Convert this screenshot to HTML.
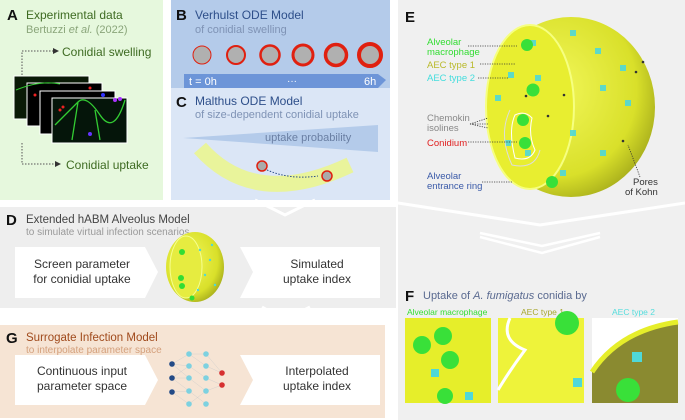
<!DOCTYPE html>
<html><head><meta charset="utf-8"><style>
body{margin:0;background:#fff;font-family:"Liberation Sans",sans-serif}
svg{display:block}
text{font-family:"Liberation Sans",sans-serif}
</style></head><body>
<svg width="685" height="420" viewBox="0 0 685 420" xmlns="http://www.w3.org/2000/svg">
<defs>
<radialGradient id="sph" cx="0.4" cy="0.4" r="0.7"><stop offset="0" stop-color="#f2f75a"/><stop offset="0.7" stop-color="#d9e02a"/><stop offset="1" stop-color="#9aa018"/></radialGradient>
<radialGradient id="aec" cx="0.5" cy="0.5" r="0.5"><stop offset="0" stop-color="#f4ff40"/><stop offset="1" stop-color="#dce6f5" stop-opacity="0"/></radialGradient>
<marker id="ar" markerWidth="6" markerHeight="6" refX="5" refY="3" orient="auto"><path d="M0,0L6,3L0,6z" fill="#333"/></marker>
</defs>
<rect x="398" y="0" width="287" height="420" fill="#f0f0f0"/>
<!-- A -->
<rect x="0" y="0" width="163" height="200" fill="#e6f8dd"/>
<text x="7" y="20" font-size="15" font-weight="bold" fill="#111">A</text>
<text x="26" y="19" font-size="12" fill="#3e6b22">Experimental data</text>
<text x="26" y="33" font-size="11" fill="#8aa57a">Bertuzzi <tspan font-style="italic">et al.</tspan> (2022)</text>
<path d="M22,75 V51 H58" stroke="#555" stroke-dasharray="1.5,1.5" fill="none" marker-end="url(#ar)"/>
<text x="62" y="56" font-size="12" fill="#3e6b22">Conidial swelling</text>
<path d="M22,143 V164 H60" stroke="#555" stroke-dasharray="1.5,1.5" fill="none" marker-end="url(#ar)"/>
<text x="66" y="169" font-size="12" fill="#3e6b22">Conidial uptake</text>
<rect x="14" y="76" width="75" height="43" fill="#0a1a06" stroke="#fff"/>
<rect x="27" y="83" width="75" height="43" fill="#000" stroke="#fff"/>
<rect x="40" y="91" width="75" height="43" fill="#000" stroke="#fff"/>
<rect x="52" y="98" width="75" height="45" fill="#05150a" stroke="#fff"/>
<path d="M55,125 Q70,110 78,102 T100,115 T125,100 M78,102 L72,140 M95,110 L100,140" stroke="#3c3" stroke-width="1.3" fill="none"/>
<path d="M16,90 Q40,80 60,84" stroke="#3c3" fill="none"/>
<circle cx="60" cy="110" r="1.5" fill="#e22"/><circle cx="63" cy="107" r="1.5" fill="#e22"/>
<circle cx="90" cy="88" r="1.5" fill="#e22"/><circle cx="35" cy="95" r="1.5" fill="#e22"/>
<circle cx="103" cy="95" r="2" fill="#33f"/><circle cx="90" cy="134" r="2" fill="#63f"/>
<circle cx="115" cy="100" r="2" fill="#a3f"/><circle cx="120" cy="99" r="2" fill="#a3f"/>
<!-- B -->
<rect x="171" y="0" width="219" height="88" fill="#b4cbea"/>
<rect x="171" y="88" width="219" height="112" fill="#dbe6f6"/>
<text x="176" y="20" font-size="15" font-weight="bold" fill="#111">B</text>
<text x="195" y="19" font-size="12" fill="#2e4f8a">Verhulst ODE Model</text>
<text x="195" y="33" font-size="11" fill="#7f93b5">of conidial swelling</text>
<g fill="#b0b0b0" stroke="#e02010">
<circle cx="202" cy="55" r="9" stroke-width="1"/><circle cx="236" cy="55" r="9" stroke-width="2"/>
<circle cx="270" cy="55" r="9.5" stroke-width="2.5"/><circle cx="303" cy="55" r="10" stroke-width="3"/>
<circle cx="336" cy="55" r="10.5" stroke-width="3.5"/><circle cx="370" cy="55" r="11" stroke-width="4"/></g>
<path d="M184,74 H378 L386,80 L378,88 H184 Z" fill="#6d95d8"/>
<text x="189" y="85" font-size="11" fill="#fff">t = 0h</text>
<text x="287" y="84" font-size="10" fill="#fff">···</text>
<text x="364" y="85" font-size="11" fill="#fff">6h</text>
<text x="176" y="107" font-size="15" font-weight="bold" fill="#111">C</text>
<text x="195" y="105" font-size="12" fill="#2e4f8a">Malthus ODE Model</text>
<text x="195" y="118" font-size="11" fill="#7f93b5">of size-dependent conidial uptake</text>
<path d="M183,138 L378,125 L378,152 Z" fill="#b4cbea"/>
<text x="265" y="141" font-size="11" fill="#6a7fa3">uptake probability</text>
<path d="M200,148 Q255,210 350,165" stroke="#f4ff50" stroke-width="16" fill="none" opacity="0.55"/>
<circle cx="262" cy="166" r="5" fill="#aaa" stroke="#e02010" stroke-width="1.5"/>
<circle cx="327" cy="176" r="5" fill="#aaa" stroke="#e02010" stroke-width="1.5"/>
<path d="M267,170 Q290,180 318,176" stroke="#2e4f8a" stroke-dasharray="1.5,1.5" fill="none"/>
<!-- D -->
<rect x="0" y="207" width="396" height="101" fill="#eeeeee"/>
<path d="M255,200 L285,215 L315,200" stroke="#fff" stroke-width="3" fill="none"/>
<text x="6" y="225" font-size="15" font-weight="bold" fill="#111">D</text>
<text x="26" y="223" font-size="11.5" fill="#444">Extended hABM Alveolus Model</text>
<text x="26" y="235" font-size="10" fill="#999">to simulate virtual infection scenarios</text>
<path d="M15,247 H145 L158,272 L145,298 H15 Z" fill="#fff"/>
<text x="82" y="268" font-size="12" text-anchor="middle" fill="#333">Screen parameter</text>
<text x="82" y="283" font-size="12" text-anchor="middle" fill="#333">for conidial uptake</text>
<path d="M240,247 H380 V298 H240 L253,272 Z" fill="#fff"/>
<text x="317" y="268" font-size="12" text-anchor="middle" fill="#333">Simulated</text>
<text x="317" y="283" font-size="12" text-anchor="middle" fill="#333">uptake index</text>
<ellipse cx="195" cy="267" rx="29" ry="35" fill="url(#sph)"/>
<ellipse cx="186" cy="267" rx="16" ry="31" fill="#e6ec40" stroke="#f6ff90"/>
<g fill="#3d3"><circle cx="182" cy="252" r="3"/><circle cx="181" cy="278" r="3"/><circle cx="182" cy="286" r="3"/><circle cx="192" cy="298" r="2.5"/></g>
<g fill="#4fd8d8"><circle cx="200" cy="250" r="1.2"/><circle cx="210" cy="260" r="1.2"/><circle cx="205" cy="275" r="1.2"/><circle cx="215" cy="285" r="1.2"/><circle cx="198" cy="290" r="1.2"/><circle cx="212" cy="245" r="1.2"/></g>
<!-- G -->
<rect x="0" y="325" width="385" height="93" fill="#f6e4d4"/>
<path d="M262,307 L285,320 L310,307" stroke="#fff" stroke-width="3" fill="none"/>
<text x="6" y="343" font-size="15" font-weight="bold" fill="#111">G</text>
<text x="26" y="341" font-size="11.5" fill="#a04a1c">Surrogate Infection Model</text>
<text x="26" y="353" font-size="10" fill="#d4a07c">to interpolate parameter space</text>
<path d="M15,355 H145 L158,380 L145,405 H15 Z" fill="#fff"/>
<text x="82" y="375" font-size="12" text-anchor="middle" fill="#333">Continuous input</text>
<text x="82" y="390" font-size="12" text-anchor="middle" fill="#333">parameter space</text>
<path d="M240,355 H380 V405 H240 L253,380 Z" fill="#fff"/>
<text x="317" y="375" font-size="12" text-anchor="middle" fill="#333">Interpolated</text>
<text x="317" y="390" font-size="12" text-anchor="middle" fill="#333">uptake index</text>
<g stroke="#ccc" stroke-width="0.4">
<path d="M172,364 L189,354 M172,364 L189,366 M172,364 L189,378 M172,378 L189,366 M172,378 L189,378 M172,378 L189,391 M172,392 L189,391 M172,392 L189,404 M189,354 L206,366 M189,366 L206,378 M189,378 L206,391 M189,391 L206,404 M189,354 L206,354 M189,404 L206,391 M206,366 L222,373 M206,378 L222,385 M206,391 L222,385 M206,354 L222,373"/></g>
<g fill="#7dd1e0"><circle cx="189" cy="354" r="2.8"/><circle cx="189" cy="366" r="2.8"/><circle cx="189" cy="378" r="2.8"/><circle cx="189" cy="391" r="2.8"/><circle cx="189" cy="404" r="2.8"/>
<circle cx="206" cy="354" r="2.8"/><circle cx="206" cy="366" r="2.8"/><circle cx="206" cy="378" r="2.8"/><circle cx="206" cy="391" r="2.8"/><circle cx="206" cy="404" r="2.8"/></g>
<g fill="#234a86"><circle cx="172" cy="364" r="2.8"/><circle cx="172" cy="378" r="2.8"/><circle cx="172" cy="392" r="2.8"/></g>
<g fill="#d63030"><circle cx="222" cy="373" r="2.8"/><circle cx="222" cy="385" r="2.8"/></g>
<!-- E -->
<text x="405" y="22" font-size="15" font-weight="bold" fill="#111">E</text>
<ellipse cx="571" cy="107" rx="84" ry="90" fill="url(#sph)"/>
<ellipse cx="530" cy="107" rx="44" ry="82" fill="#e8ee30" stroke="#f6ff80" stroke-width="2"/>
<g fill="#4fd8d8" opacity="0.9">
<rect x="570" y="30" width="6" height="6"/><rect x="595" y="48" width="6" height="6"/><rect x="620" y="65" width="6" height="6"/><rect x="600" y="85" width="6" height="6"/><rect x="625" y="100" width="6" height="6"/><rect x="570" y="130" width="6" height="6"/><rect x="600" y="150" width="6" height="6"/><rect x="560" y="170" width="6" height="6"/><rect x="535" y="75" width="6" height="6"/><rect x="495" y="95" width="6" height="6"/><rect x="505" y="140" width="6" height="6"/><rect x="525" y="150" width="6" height="6"/><rect x="530" y="40" width="6" height="6"/><rect x="508" y="72" width="6" height="6"/></g>
<g fill="#39e039"><circle cx="527" cy="45" r="6"/><circle cx="533" cy="90" r="6.5"/><circle cx="523" cy="120" r="6"/><circle cx="525" cy="143" r="6"/><circle cx="552" cy="182" r="6"/></g>
<path d="M515,115 Q508,130 515,158 Q530,162 535,150 Q528,135 532,118 Q525,110 515,115 Z" stroke="#fff" fill="none"/>
<path d="M510,110 Q498,135 512,165 Q535,170 540,150" stroke="#ddd" fill="none"/>
<g fill="#333"><circle cx="526" cy="96" r="1.3"/><circle cx="564" cy="95" r="1.3"/><circle cx="548" cy="116" r="1.3"/><circle cx="623" cy="141" r="1.3"/><circle cx="636" cy="72" r="1.3"/><circle cx="643" cy="62" r="1.3"/></g>
<g font-size="9.5">
<text x="427" y="45" fill="#33dd33">Alveolar</text><text x="427" y="55" fill="#33dd33">macrophage</text>
<text x="427" y="68" fill="#b9b92a">AEC type 1</text>
<text x="427" y="81" fill="#44dddd">AEC type 2</text>
<text x="427" y="121" fill="#888">Chemokin</text><text x="427" y="131" fill="#888">isolines</text>
<text x="427" y="146" fill="#e02020">Conidium</text>
<text x="427" y="179" fill="#3a5aa8">Alveolar</text><text x="427" y="189" fill="#3a5aa8">entrance ring</text>
<text x="633" y="185" fill="#333">Pores</text><text x="625" y="195" fill="#333">of Kohn</text>
</g>
<g stroke="#333" stroke-dasharray="1.2,1.2" fill="none" stroke-width="0.8">
<path d="M468,46 H517"/><path d="M480,64 H516"/><path d="M478,78 H508"/><path d="M470,124 L488,118 M470,124 L488,124 M470,124 L488,128"/><path d="M468,142 H517"/><path d="M482,182 H512"/><path d="M640,177 L628,145"/></g>
<path d="M398,203 L540,225 L685,203" stroke="#fff" stroke-width="3" fill="none"/>
<path d="M480,233 L542,246 L600,233" stroke="#fff" stroke-width="2.5" fill="none"/>
<path d="M480,237 L542,253 L600,237" stroke="#fff" stroke-width="2.5" fill="none"/>
<!-- F -->
<text x="405" y="301" font-size="15" font-weight="bold" fill="#111">F</text>
<text x="423" y="299" font-size="11" fill="#5a6a90">Uptake of <tspan font-style="italic">A. fumigatus</tspan> conidia by</text>
<g font-size="8.5"><text x="407" y="315" fill="#33dd33">Alveolar macrophage</text><text x="521" y="315" fill="#a8a830">AEC type 1</text><text x="612" y="315" fill="#55dddd">AEC type 2</text></g>
<rect x="405" y="318" width="86" height="85" fill="#e6ee2a"/>
<g fill="#39e039"><circle cx="443" cy="336" r="9"/><circle cx="422" cy="345" r="9"/><circle cx="450" cy="360" r="9"/><circle cx="445" cy="396" r="8"/></g>
<rect x="431" y="369" width="8" height="8" fill="#4fd8d8"/><rect x="465" y="392" width="8" height="8" fill="#4fd8d8"/>
<rect x="498" y="318" width="86" height="85" fill="#eef33a"/>
<path d="M510,318 Q500,340 525,350 Q510,370 498,390" stroke="#fff" stroke-width="3" fill="none"/>
<circle cx="567" cy="323" r="12" fill="#39e039"/>
<rect x="573" y="378" width="9" height="9" fill="#4fd8d8"/>
<rect x="592" y="318" width="86" height="85" fill="#8a8a30"/>
<path d="M592,318 H678 V322 Q620,330 592,372 Z" fill="#fff"/>
<path d="M592,372 Q620,330 678,322" stroke="#e6ee2a" stroke-width="5" fill="none"/>
<circle cx="628" cy="390" r="12" fill="#39e039"/>
<rect x="632" y="352" width="10" height="10" fill="#4fd8d8"/>
</svg>
</body></html>
